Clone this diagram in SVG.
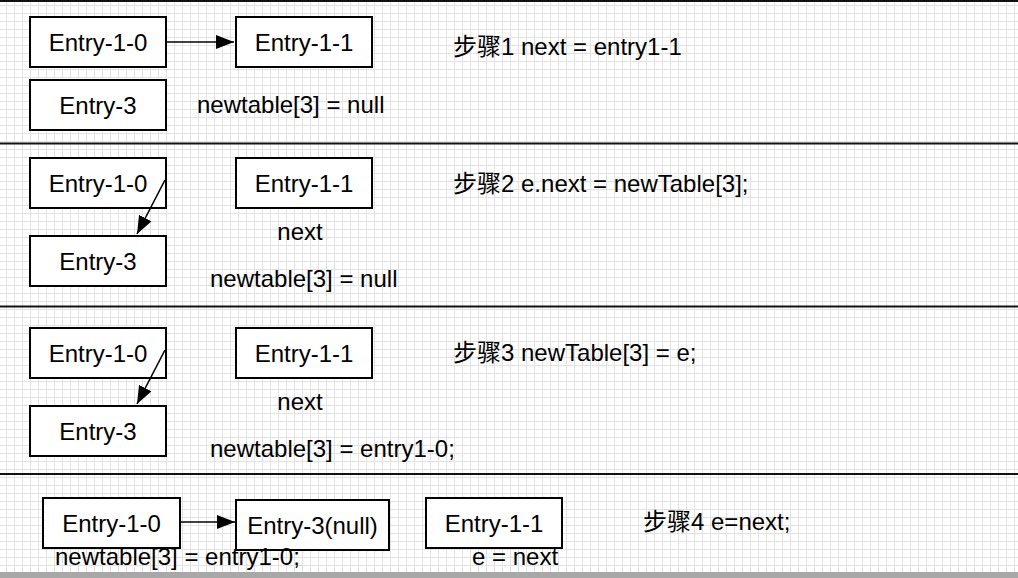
<svg xmlns="http://www.w3.org/2000/svg" width="1018" height="578" viewBox="0 0 1018 578">
<style>
.box{fill:#fff;stroke:#000;stroke-width:2}
.t{font-family:"Liberation Sans","Noto Sans CJK SC",Arial,sans-serif;font-size:24px;fill:#000}
.m{text-anchor:middle}
.sep{stroke:#111;stroke-width:2.2}
.edge{stroke:#000;stroke-width:1.6;fill:none;marker-end:url(#ah)}
</style>
<defs>
<pattern id="grid" x="6" y="5" width="8" height="8" patternUnits="userSpaceOnUse">
<path d="M0.5 0V8M0 0.5H8" stroke="#e2e2e2" stroke-width="1" fill="none"/>
</pattern>
<marker id="ah" markerUnits="userSpaceOnUse" markerWidth="20" markerHeight="16" refX="18" refY="7" orient="auto">
<path d="M0 0L18 7L0 14z" fill="#000"/>
</marker>
</defs>
<rect width="1018" height="578" fill="#fff"/>
<rect width="1018" height="572" fill="url(#grid)"/>
<rect y="572" width="1018" height="6" fill="#a8a8a8"/>
<g id="separators">
<line class="sep" x1="0" y1="1" x2="1018" y2="1"/>
<line class="sep" x1="0" y1="143.5" x2="1018" y2="143.5"/>
<line class="sep" x1="0" y1="306.5" x2="1018" y2="306.5"/>
<line class="sep" x1="0" y1="474" x2="1018" y2="474"/>
</g>
<g id="s1-entry-1-0"><rect class="box" x="30" y="17" width="136" height="50"/><text class="t m" x="98" y="50.5">Entry-1-0</text></g>
<g id="s1-entry-1-1"><rect class="box" x="236" y="17" width="136" height="50"/><text class="t m" x="304" y="50.5">Entry-1-1</text></g>
<g id="s1-entry-3"><rect class="box" x="30" y="80" width="136" height="50"/><text class="t m" x="98" y="113.5">Entry-3</text></g>
<g id="s1-labels"><text class="t" x="197" y="113">newtable[3] = null</text><text class="t" x="453" y="55">步骤1 next = entry1-1</text></g>
<g id="s2-entry-1-0"><rect class="box" x="30" y="158" width="136" height="50"/><text class="t m" x="98" y="191.5">Entry-1-0</text></g>
<g id="s2-entry-1-1"><rect class="box" x="236" y="158" width="136" height="50"/><text class="t m" x="304" y="191.5">Entry-1-1</text></g>
<g id="s2-entry-3"><rect class="box" x="30" y="236" width="136" height="50"/><text class="t m" x="98" y="269.5">Entry-3</text></g>
<g id="s2-labels"><text class="t m" x="300" y="240">next</text><text class="t" x="210" y="287">newtable[3] = null</text><text class="t" x="453" y="192">步骤2 e.next = newTable[3];</text></g>
<g id="s3-entry-1-0"><rect class="box" x="30" y="328" width="136" height="50"/><text class="t m" x="98" y="361.5">Entry-1-0</text></g>
<g id="s3-entry-1-1"><rect class="box" x="236" y="328" width="136" height="50"/><text class="t m" x="304" y="361.5">Entry-1-1</text></g>
<g id="s3-entry-3"><rect class="box" x="30" y="406" width="136" height="50"/><text class="t m" x="98" y="439.5">Entry-3</text></g>
<g id="s3-labels"><text class="t m" x="300" y="410">next</text><text class="t" x="210" y="457">newtable[3] = entry1-0;</text><text class="t" x="453" y="361">步骤3 newTable[3] = e;</text></g>
<g id="s4-entry-1-0"><rect class="box" x="43" y="498" width="137" height="50"/><text class="t m" x="111.5" y="531.5">Entry-1-0</text></g>
<g id="s4-entry-3"><rect class="box" x="236" y="500" width="153" height="50"/><text class="t m" x="312.5" y="533.5">Entry-3(null)</text></g>
<g id="s4-entry-1-1"><rect class="box" x="426" y="498" width="136" height="50"/><text class="t m" x="494" y="531.5">Entry-1-1</text></g>
<g id="s4-labels"><text class="t" x="55" y="565">newtable[3] = entry1-0;</text><text class="t" x="472" y="565">e = next</text><text class="t" x="643" y="530">步骤4 e=next;</text></g>
<g id="connectors">
<line class="edge" x1="166" y1="42" x2="234" y2="42"/>
<line class="edge" x1="165" y1="180" x2="137" y2="234"/>
<line class="edge" x1="165" y1="350" x2="137" y2="404"/>
<line class="edge" x1="180" y1="522" x2="235" y2="522"/>
</g>
</svg>
